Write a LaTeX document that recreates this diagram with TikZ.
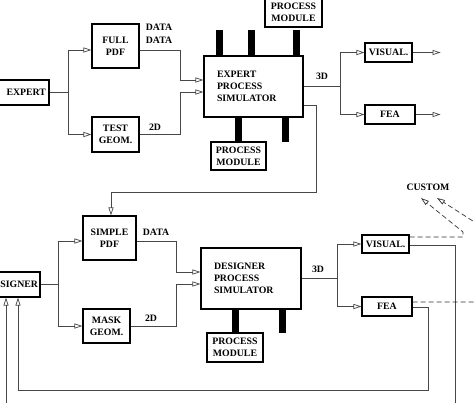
\documentclass[tikz,border=0pt]{standalone}
\usepackage{fontspec}
\setmainfont{Liberation Serif}
\usetikzlibrary{arrows.meta,calc}
\begin{document}
\begin{tikzpicture}[x=1pt,y=-1pt,
  every node/.style={font=\fontsize{9.8}{12}\selectfont\bfseries},
  box/.style={draw, line width=1.1pt, inner sep=0pt, align=center},
  simbox/.style={box, align=left, inner xsep=13pt, text width=#1},
  rbox/.style={box, align=right, inner xsep=3pt, text width=#1},
  blk/.style={fill=black, draw=none, inner sep=0pt, minimum width=7pt},
  lab/.style={inner sep=0pt, align=center},
  conn/.style={draw=black!72, line width=0.7pt},
  arr/.style={conn, -{Triangle[open,length=8pt,width=5pt]}},
  darr/.style={arr, draw=black!80, dash pattern=on 5pt off 3pt}]
\useasboundingbox (0,0) rectangle (474,402);
\clip (0,0) rectangle (474,402);
% ---------- expert half ----------
\node[rbox=46pt, minimum width=52pt, minimum height=25pt] (expert) at (23,92.5) {EXPERT};
\node[box, minimum width=47pt, minimum height=44pt] (fullpdf) at (115.5,46) {FULL\\PDF};
\node[box, minimum width=47pt, minimum height=35pt] (testgeom) at (115.5,134.5) {TEST\\GEOM.};
\node[simbox=73pt, minimum width=99pt, minimum height=61pt] (esim) at (253.5,86.5) {EXPERT\\PROCESS\\SIMULATOR};
\node[box, minimum width=57pt, minimum height=30pt] (pmtop) at (293.5,12) {PROCESS\\MODULE};
\node[box, minimum width=55pt, minimum height=28pt] (pmbot) at (238.5,156) {PROCESS\\MODULE};
\node[box, minimum width=47pt, minimum height=19pt] (visual1) at (388.5,52.5) {VISUAL.};
\node[box, minimum width=50pt, minimum height=19pt] (fea1) at (390,114.5) {FEA};
\node[blk, minimum height=26pt] (eb1) at (219.5,43) {};
\node[blk, minimum height=26pt] (eb2) at (251,43) {};
\node[blk, minimum height=26pt] (eb3) at (296.5,43) {};
\node[blk, minimum height=25pt] (eb4) at (238.5,129.5) {};
\node[blk, minimum height=25pt] (eb5) at (285,129.5) {};
\node[lab] (ldata1) at (159,33.5) {DATA\\[1pt]DATA};
\node[lab] (l2d1) at (155,127) {2D};
\node[lab] (l3d1) at (322,76) {3D};
% connectors
\draw[conn] (expert.east) -- ++(19,0) coordinate (s1);
\coordinate (fi) at ($(fullpdf.west)+(0,4)$);
\draw[arr] (s1) |- (fi);
\draw[arr] (s1) |- (testgeom.west);
\coordinate (j1) at (180,0);
\coordinate (fo) at ($(fullpdf.east)+(0,4)$);
\coordinate (ei1) at ($(esim.west)+(0,-6.5)$);
\coordinate (ei2) at ($(esim.west)+(0,5.5)$);
\draw[arr] (fo) -- (fo -| j1) |- (ei1);
\draw[arr] (testgeom.east) -- (testgeom.east -| j1) |- (ei2);
\draw[conn] (esim.east) -- ++(37,0) coordinate (s2);
\draw[arr] (s2) |- (visual1.west);
\draw[arr] (s2) |- (fea1.west);
\draw[arr] (visual1.east) -- ++(28,0) coordinate (vo1);
\draw[arr] (fea1.east) -- ++(25,0) coordinate (fo1);
% feedback to designer half
\coordinate (fb) at ($(esim.east)+(0,18.5)$);
\coordinate (j2) at (316,192);
% ---------- designer half ----------
\node[rbox=52pt, minimum width=56pt, minimum height=25pt, inner xsep=2pt] (designer) at (12,284.5) {DESIGNER};
\node[box, minimum width=53pt, minimum height=44pt] (simplepdf) at (109.5,238) {SIMPLE\\PDF};
\node[box, minimum width=47pt, minimum height=34pt] (maskgeom) at (106.5,326) {MASK\\GEOM.};
\node[simbox=74pt, minimum width=100pt, minimum height=61pt] (dsim) at (251,278.5) {DESIGNER\\PROCESS\\SIMULATOR};
\node[box, minimum width=56pt, minimum height=29pt] (pmd) at (235,347.5) {PROCESS\\MODULE};
\node[box, minimum width=47pt, minimum height=18pt] (visual2) at (385.5,244) {VISUAL.};
\node[box, minimum width=50pt, minimum height=19pt] (fea2) at (387,306.5) {FEA};
\node[blk, minimum height=24pt] (db1) at (235,321) {};
\node[blk, minimum height=24pt] (db2) at (282,321) {};
\node[lab] (ldata2) at (156,232) {DATA};
\node[lab] (l2d2) at (151,318) {2D};
\node[lab] (l3d2) at (318,269) {3D};
\node[lab] (custom) at (428,187) {CUSTOM};
\coordinate (tin) at ($(simplepdf.north)+(1.5,0)$);
\draw[arr] (fb) -| (j2) -| (tin);
\draw[conn] (designer.east) -- ++(18,0) coordinate (s3);
\coordinate (si) at ($(simplepdf.west)+(0,3)$);
\draw[arr] (s3) |- (si);
\draw[arr] (s3) |- (maskgeom.west);
\coordinate (j3) at (176,0);
\coordinate (so) at ($(simplepdf.east)+(0,3)$);
\coordinate (di1) at ($(dsim.west)+(0,-6.5)$);
\coordinate (di2) at ($(dsim.west)+(0,5.5)$);
\draw[arr] (so) -- (so -| j3) |- (di1);
\draw[arr] (maskgeom.east) -- (maskgeom.east -| j3) |- (di2);
\draw[conn] (dsim.east) -- ++(36,0) coordinate (s4);
\draw[arr] (s4) |- (visual2.west);
\draw[arr] (s4) |- (fea2.west);
% loops back to designer
\coordinate (v2s) at ($(visual2.east)+(0,1)$);
\coordinate (c1) at (455,410);
\coordinate (dd1) at ($(designer.south)+(-6,0)$);
\draw[arr] (v2s) -| (c1) -| (dd1);
\coordinate (f2s) at ($(fea2.east)+(0,0.5)$);
\coordinate (c2) at (428,390);
\coordinate (dd2) at ($(designer.south)+(6,0)$);
\draw[arr] (f2s) -| (c2) -| (dd2);
% dashed custom outputs
\coordinate (v2d) at ($(visual2.east)+(0,-7)$);
\coordinate (k1) at (463,232);
\coordinate (cu1) at (421,198);
\draw[darr] (v2d) -| (k1) -- (cu1);
\coordinate (f2d) at ($(fea2.east)+(0,-4.5)$);
\coordinate (k2) at (490,232);
\coordinate (cu2) at (437,198);
\draw[darr] (f2d) -| (k2) -- (cu2);
\end{tikzpicture}
\end{document}
